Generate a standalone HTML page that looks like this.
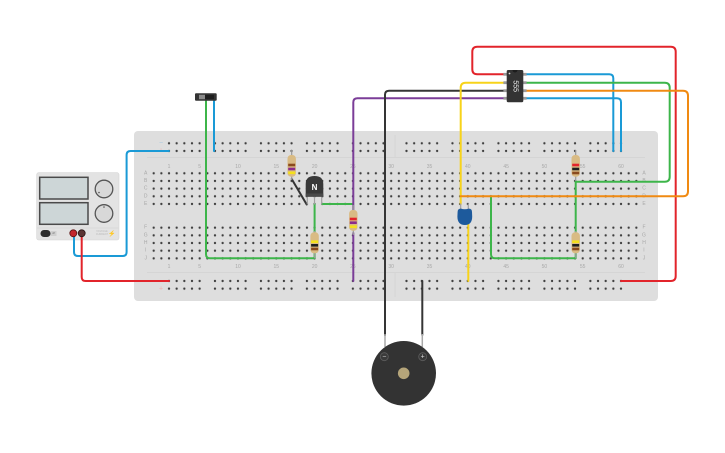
<!DOCTYPE html>
<html><head><meta charset="utf-8"><style>
html,body{margin:0;padding:0;background:#fff;}
svg{display:block;}
text{font-family:"Liberation Sans",sans-serif;}
</style></head><body>
<svg width="725" height="453" viewBox="0 0 725 453" xmlns="http://www.w3.org/2000/svg">
<defs>
<pattern id="h" width="7.661" height="7.67" patternUnits="userSpaceOnUse"><circle cx="3.83" cy="3.835" r="1.15" fill="#3d3d3d"/></pattern>
</defs>
<rect width="725" height="453" fill="#fff"/>

<!-- breadboard -->
<rect x="134" y="131" width="524" height="170" rx="4" fill="#dedede"/>
<line x1="147" y1="157.5" x2="645" y2="157.5" stroke="#d2d2d2" stroke-width="0.8"/>
<line x1="147" y1="272.5" x2="645" y2="272.5" stroke="#d2d2d2" stroke-width="0.8"/>
<line x1="395" y1="135" x2="395" y2="157" stroke="#d2d2d2" stroke-width="0.8"/>
<line x1="395" y1="273" x2="395" y2="297" stroke="#d2d2d2" stroke-width="0.8"/>

<!-- main holes -->
<rect width="490.3" height="38.35" fill="url(#h)" transform="translate(149.87,169.465)"/>
<rect width="490.3" height="38.35" fill="url(#h)" transform="translate(149.87,223.865)"/>
<!-- rail holes -->
<g fill="url(#h)">
<rect width="38.3" height="15.34" transform="translate(165.17,139.465)"/>
<rect width="38.3" height="15.34" transform="translate(211.14,139.465)"/>
<rect width="38.3" height="15.34" transform="translate(257.1,139.465)"/>
<rect width="38.3" height="15.34" transform="translate(303.07,139.465)"/>
<rect width="38.3" height="15.34" transform="translate(349.03,139.465)"/>
<rect width="38.3" height="15.34" transform="translate(402.66,139.465)"/>
<rect width="38.3" height="15.34" transform="translate(448.63,139.465)"/>
<rect width="38.3" height="15.34" transform="translate(494.59,139.465)"/>
<rect width="38.3" height="15.34" transform="translate(540.56,139.465)"/>
<rect width="38.3" height="15.34" transform="translate(586.53,139.465)"/>
<rect width="38.3" height="15.34" transform="translate(165.17,277.165)"/>
<rect width="38.3" height="15.34" transform="translate(211.14,277.165)"/>
<rect width="38.3" height="15.34" transform="translate(257.1,277.165)"/>
<rect width="38.3" height="15.34" transform="translate(303.07,277.165)"/>
<rect width="38.3" height="15.34" transform="translate(349.03,277.165)"/>
<rect width="38.3" height="15.34" transform="translate(402.66,277.165)"/>
<rect width="38.3" height="15.34" transform="translate(448.63,277.165)"/>
<rect width="38.3" height="15.34" transform="translate(494.59,277.165)"/>
<rect width="38.3" height="15.34" transform="translate(540.56,277.165)"/>
<rect width="38.3" height="15.34" transform="translate(586.53,277.165)"/>
</g>
<!-- rail markers -->
<text x="161" y="143.5" font-size="7" fill="#a8c8e0" text-anchor="middle" dominant-baseline="central">−</text>
<text x="161" y="151" font-size="7" fill="#f0b0b0" text-anchor="middle" dominant-baseline="central">+</text>
<text x="161" y="289" font-size="7" fill="#f0b0b0" text-anchor="middle" dominant-baseline="central">+</text>

<!-- number labels -->
<g font-size="5" fill="#a8a8a8" text-anchor="middle" dominant-baseline="central">
<text x="169" y="167">1</text><text x="199.6" y="167">5</text><text x="238" y="167">10</text><text x="276.3" y="167">15</text><text x="314.6" y="167">20</text><text x="352.9" y="167">25</text><text x="391.2" y="167">30</text><text x="429.5" y="167">35</text><text x="467.8" y="167">40</text><text x="506.1" y="167">45</text><text x="544.4" y="167">50</text><text x="582.7" y="167">55</text><text x="621" y="167">60</text>
<text x="169" y="267">1</text><text x="199.6" y="267">5</text><text x="238" y="267">10</text><text x="276.3" y="267">15</text><text x="314.6" y="267">20</text><text x="352.9" y="267">25</text><text x="391.2" y="267">30</text><text x="429.5" y="267">35</text><text x="467.8" y="267">40</text><text x="506.1" y="267">45</text><text x="544.4" y="267">50</text><text x="582.7" y="267">55</text><text x="621" y="267">60</text>
<text x="145.7" y="173.3">A</text><text x="145.7" y="181">B</text><text x="145.7" y="188.7">C</text><text x="145.7" y="196.3">D</text><text x="145.7" y="204">E</text>
<text x="145.7" y="227.7">F</text><text x="145.7" y="235.3">G</text><text x="145.7" y="243">H</text><text x="145.7" y="250.7">I</text><text x="145.7" y="258.3">J</text>
<text x="644" y="173.3">A</text><text x="644" y="181">B</text><text x="644" y="188.7">C</text><text x="644" y="196.3">D</text><text x="644" y="204">E</text>
<text x="644" y="227.7">F</text><text x="644" y="235.3">G</text><text x="644" y="243">H</text><text x="644" y="250.7">I</text><text x="644" y="258.3">J</text>
</g>

<!-- power supply -->
<rect x="36.7" y="172.7" width="82.3" height="67.3" rx="2" fill="#e3e3e3" stroke="#d4d4d4" stroke-width="0.6"/>
<rect x="39.7" y="177.3" width="48.3" height="21.7" fill="#cdd6d7" stroke="#4a4a4a" stroke-width="1.5"/>
<rect x="39.7" y="202.7" width="48.3" height="21.6" fill="#cdd6d7" stroke="#4a4a4a" stroke-width="1.5"/>
<circle cx="104" cy="189" r="8.8" fill="#d8d8d8" stroke="#555" stroke-width="1.3"/>
<circle cx="104" cy="213.5" r="8.8" fill="#d8d8d8" stroke="#555" stroke-width="1.3"/>
<circle cx="99" cy="192.5" r="0.8" fill="#555"/>
<circle cx="104" cy="207" r="0.8" fill="#555"/>
<line x1="37" y1="228" x2="118.7" y2="228" stroke="#d2d2d2" stroke-width="0.6"/>
<rect x="40.5" y="230" width="10" height="7" rx="3.5" fill="#2e2e2e"/>
<rect x="50.5" y="231" width="6" height="5" fill="#cfcfcf"/>
<text x="53.5" y="233.7" font-size="2.5" fill="#777" text-anchor="middle" dominant-baseline="central">off</text>
<text x="102" y="232" font-size="2.5" fill="#bbb" text-anchor="middle">VOLTAGE</text>
<text x="102" y="235" font-size="2.5" fill="#bbb" text-anchor="middle">CURRENT</text>
<text x="112" y="235.5" font-size="6" fill="#c4c4c4" text-anchor="middle">⚡</text>

<!-- wires -->
<g fill="none" stroke-width="2" stroke-linecap="round" stroke-linejoin="round">
<path d="M74,236 V252 Q74,256 78,256 H122.6 Q126.6,256 126.6,252 V155 Q126.6,151 130.6,151 H169" stroke="#1a9ad6"/>
<path d="M81.7,236 V277 Q81.7,281 85.7,281 H169" stroke="#e2242b"/>
<path d="M206,100 V254.3 Q206,258.3 210,258.3 H314.6 V253" stroke="#3db54a"/>
<path d="M214,100 V151" stroke="#1a9ad6"/>
<path d="M314.6,204 V232" stroke="#3db54a"/>
<path d="M322,204 H353" stroke="#3db54a"/>
<path d="M505,98.3 H357.3 Q353.3,98.3 353.3,102.3 V210" stroke="#7b3d98"/>
<path d="M353.3,233 V281" stroke="#7b3d98"/>
<path d="M505,90.7 H389 Q385,90.7 385,94.7 V335" stroke="#353535"/>
<path d="M422.3,281 V335" stroke="#353535"/>
<path d="M505,74.3 H477.3 Q472.3,74.3 472.3,69.3 V51.7 Q472.3,46.7 477.3,46.7 H670.7 Q675.7,46.7 675.7,51.7 V276 Q675.7,281 670.7,281 H621" stroke="#e2242b"/>
<path d="M505,82.7 H465.7 Q460.7,82.7 460.7,87.7 V204" stroke="#f7d31a"/>
<path d="M468.3,222 V281" stroke="#f7d31a"/>
<path d="M524,74.3 H609.3 Q613.3,74.3 613.3,78.3 V151" stroke="#1a9ad6"/>
<path d="M524,82.7 H664.7 Q669.7,82.7 669.7,87.7 V176.7 Q669.7,181.7 664.7,181.7 H575.7" stroke="#3db54a"/>
<path d="M524,98.3 H617 Q621,98.3 621,102.3 V151" stroke="#1a9ad6"/>
<path d="M491,196.3 V254.3 Q491,258.3 495,258.3 H575.7 V253" stroke="#3db54a"/>
<path d="M575.7,181 V232" stroke="#3db54a"/>
<path d="M524,90.7 H683 Q688,90.7 688,95.7 V191.3 Q688,196.3 683,196.3 H460.7" stroke="#f08a12"/>
<path d="M291.7,179 L306.7,204.5" stroke="#353535"/>
</g>

<!-- switch -->
<rect x="195" y="93.3" width="21.7" height="7.4" rx="1" fill="#343434"/>
<rect x="199" y="94.8" width="6" height="4.4" fill="#8a8a8a"/>
<rect x="205" y="94.8" width="9" height="4.4" fill="#1e1e1e"/>

<!-- resistors -->
<g>
<!-- R1 -->
<line x1="291.7" y1="150" x2="291.7" y2="180" stroke="#9a9a9a" stroke-width="1.2"/>
<rect x="287.5" y="155" width="8.4" height="21.7" rx="3.5" fill="#d9bb84"/>
<rect x="288.2" y="163.7" width="7" height="2.6" fill="#8a4a1e"/>
<rect x="288.2" y="167.7" width="7" height="2.6" fill="#8b2c8b"/>
<rect x="288.2" y="171.5" width="7" height="2.6" fill="#f4e01c"/>
<!-- R2 -->
<line x1="314.6" y1="231" x2="314.6" y2="258.3" stroke="#9a9a9a" stroke-width="1.2"/>
<rect x="310.4" y="232.3" width="8.4" height="21" rx="3.5" fill="#d9bb84"/>
<rect x="311.1" y="240.4" width="7" height="2.6" fill="#f4e01c"/>
<rect x="311.1" y="244" width="7" height="2.6" fill="#1e1e1e"/>
<rect x="311.1" y="247.7" width="7" height="2.6" fill="#8a4a1e"/>
<!-- R3 -->
<line x1="353.3" y1="205" x2="353.3" y2="235" stroke="#9a9a9a" stroke-width="1.2"/>
<rect x="349.1" y="210" width="8.4" height="20.7" rx="3.5" fill="#d9bb84"/>
<rect x="349.8" y="217.7" width="7" height="2.6" fill="#e2242b"/>
<rect x="349.8" y="221.4" width="7" height="2.6" fill="#8b2c8b"/>
<rect x="349.8" y="225.4" width="7" height="2.6" fill="#f4e01c"/>
<!-- R4 -->
<line x1="575.7" y1="150" x2="575.7" y2="181" stroke="#9a9a9a" stroke-width="1.2"/>
<rect x="571.5" y="155" width="8.4" height="21.7" rx="3.5" fill="#d9bb84"/>
<rect x="572.2" y="163.7" width="7" height="2.6" fill="#e2242b"/>
<rect x="572.2" y="167.7" width="7" height="2.6" fill="#1e1e1e"/>
<rect x="572.2" y="171.7" width="7" height="2.6" fill="#8a4a1e"/>
<!-- R5 -->
<line x1="575.7" y1="231" x2="575.7" y2="258.3" stroke="#9a9a9a" stroke-width="1.2"/>
<rect x="571.5" y="232.3" width="8.4" height="21" rx="3.5" fill="#d9bb84"/>
<rect x="572.2" y="240.4" width="7" height="2.6" fill="#f4e01c"/>
<rect x="572.2" y="244" width="7" height="2.6" fill="#1e1e1e"/>
<rect x="572.2" y="247.7" width="7" height="2.6" fill="#8a4a1e"/>
</g>

<!-- transistor -->
<g stroke="#a0a0a0" stroke-width="1.2">
<line x1="307.3" y1="196" x2="307.3" y2="204.5"/>
<line x1="314.5" y1="196" x2="314.5" y2="204.5"/>
<line x1="321.7" y1="196" x2="321.7" y2="204.5"/>
</g>
<path d="M305.7,196.7 L305.7,184 Q305.7,176 314.5,176 Q323.3,176 323.3,184 L323.3,196.7 Z" fill="#383838"/>
<rect x="305.7" y="193.5" width="17.6" height="3.2" fill="#4a4a4a"/>
<text x="314.5" y="187.5" font-size="8" font-weight="bold" fill="#fff" text-anchor="middle" dominant-baseline="central">N</text>

<!-- capacitor -->
<g stroke="#a0a0a0" stroke-width="1.2">
<line x1="460.7" y1="203.5" x2="460.7" y2="211"/>
<line x1="468.3" y1="203.5" x2="468.3" y2="211"/>
</g>
<path d="M457.6,212 Q457.6,208.4 461,208.6 Q464.8,210 468.6,208.6 Q472,208.4 472,212 L472.2,216.5 Q472.2,225 464.9,225 Q457.4,225 457.4,216.5 Z" fill="#1d5a9c"/>

<!-- 555 chip -->
<g fill="#9a9a9a">
<rect x="503.4" y="72.9" width="3.6" height="2.8"/><rect x="503.4" y="81.3" width="3.6" height="2.8"/><rect x="503.4" y="89.3" width="3.6" height="2.8"/><rect x="503.4" y="96.9" width="3.6" height="2.8"/>
<rect x="523" y="72.9" width="3.6" height="2.8"/><rect x="523" y="81.3" width="3.6" height="2.8"/><rect x="523" y="89.3" width="3.6" height="2.8"/><rect x="523" y="96.9" width="3.6" height="2.8"/>
</g>
<rect x="506.7" y="70" width="16.6" height="32.3" rx="1.5" fill="#333"/>
<path d="M512.5,70 A2.5,2.5 0 0 0 517.5,70 Z" fill="#1c1c1c"/>
<circle cx="509.5" cy="73.5" r="0.9" fill="#ddd"/>
<text x="515" y="86.2" font-size="7" fill="#eee" text-anchor="middle" dominant-baseline="central" transform="rotate(90 515 86.2)">555</text>

<!-- buzzer -->
<g stroke="#a8a8a8" stroke-width="1.5">
<line x1="385" y1="334" x2="385" y2="347"/>
<line x1="422.3" y1="334" x2="422.3" y2="347"/>
</g>
<circle cx="403.7" cy="373.3" r="32.3" fill="#333"/>
<circle cx="403.7" cy="373.3" r="5.8" fill="#b5a57a"/>
<circle cx="384.3" cy="356.7" r="4" fill="#3a3a3a" stroke="#5e5e5e" stroke-width="0.8"/>
<circle cx="422.7" cy="356.7" r="4" fill="#3a3a3a" stroke="#5e5e5e" stroke-width="0.8"/>
<text x="384.3" y="356.9" font-size="7" fill="#ddd" text-anchor="middle" dominant-baseline="central">−</text>
<text x="422.7" y="356.9" font-size="7" fill="#ddd" text-anchor="middle" dominant-baseline="central">+</text>

<!-- PS terminals -->
<circle cx="73.3" cy="233.3" r="3.5" fill="#c3262c" stroke="#5a1212" stroke-width="0.8"/>
<circle cx="81.7" cy="233.3" r="3.5" fill="#5a3434" stroke="#2a1414" stroke-width="0.8"/>
</svg>
</body></html>
